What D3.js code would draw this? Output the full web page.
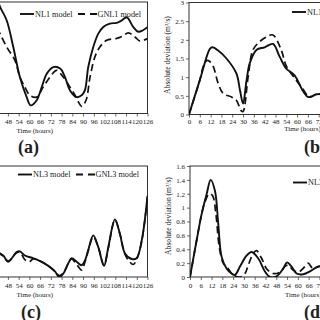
<!DOCTYPE html>
<html><head><meta charset="utf-8">
<script src="https://cdn.jsdelivr.net/npm/d3@7"></script>
<style>
html,body{margin:0;padding:0;background:#fff;overflow:hidden}
svg{display:block}
text{font-family:"Liberation Serif","Times New Roman",serif;fill:#222}
</style>
</head><body><svg id="chart" width="320" height="320"></svg>
<script>
// ---------- data ----------
const hourTicks = [0,6,12,18,24,30,36,42,48,54,60,66,72,78,84,90,96,102,108,114,120,126];
const yTicksAB = [0,0.5,1,1.5,2,2.5,3];
const yTicksCD = [0,0.2,0.4,0.6,0.8,1,1.2,1.4,1.6];

// (a) NL1 / GNL1
const aHoursNL1 = [42,43.6,47.3,51,54.7,58.5,60.7,64,66.9,69.7,73.4,77.2,79.9,82.7,86.4,89.2,91,92.9,95.7,98.5,101.3,105,108.8,111.5,114.4,118,120.8,123.5,126];
const aNL1      = [3.1,2.87,2.51,1.79,0.98,0.44,0.22,0.35,0.71,1.07,1.25,1.21,0.98,0.62,0.44,0.49,0.62,1.25,1.79,2.15,2.33,2.42,2.44,2.5,2.59,2.33,2.2,2.24,2.32];
const aHoursGNL1 = [42,43.6,47.3,51.9,54.7,57.5,60.3,64,67.7,71.5,75.2,78.9,82.7,85.5,87.5,89.2,91.6,93.9,96.6,99.4,103.2,108.8,112,115.3,119,121.8,126];
const aGNL1      = [2.3,2.15,1.79,1.43,0.98,0.71,0.49,0.44,0.71,0.98,1.16,0.98,0.71,0.49,0.3,0.19,0.35,0.98,1.52,1.79,1.97,2.02,2.08,2.17,2.06,1.95,2.02];

// (b) NL1 / GNL1 absolute deviation
const bHoursNL1 = [0,6,11.6,13,16,20.8,26.3,28.3,30,31.9,33.7,37.4,42,46.6,50.3,54,58.6,63,66,68,70.5,74];
const bNL1      = [0,0.92,1.76,1.8,1.72,1.5,1.1,0.65,0.29,0.9,1.37,1.73,1.8,1.89,1.55,1.23,1.05,0.65,0.47,0.48,0.54,0.55];
const bHoursGNL1 = [0,6,8,10,11.5,13.5,16.2,19,23.6,26.3,29,30,32.8,35.5,39.2,43,46.6,51.2,54,59.5,63,66,68,70.5,74];
const bGNL1      = [0,0.92,1.3,1.45,1.42,1.28,0.83,0.56,0.47,0.38,0.1,0.08,1.0,1.73,1.95,2.08,2.13,1.73,1.3,0.92,0.7,0.5,0.48,0.54,0.55];

// (c) NL3 / GNL3
const cHoursNL3 = [42,43.6,45.4,48.2,52.9,54.7,57.5,62.2,66,70.6,74.3,76.7,79,81.8,83.6,86.4,89.2,91.1,92.9,95.7,98.5,101.7,104.1,107.8,110.6,113.4,117.2,119.9,122.8,126];
const cNL3      = [0.36,0.34,0.31,0.22,0.36,0.37,0.31,0.27,0.23,0.16,0.08,0.0,0.05,0.2,0.27,0.22,0.17,0.24,0.39,0.6,0.43,0.16,0.43,0.83,0.62,0.34,0.26,0.27,0.53,1.17];
const cHoursGNL3 = [42,43.6,45.4,48.2,52.9,54.7,57.5,60,62.2,66,70.6,74.3,76.7,79,81.8,83.6,86.4,89.2,91.1,92.9,95.7,98.5,101.7,104.1,107.8,110.6,113.4,116,118,119.9,122.8,126];
const cGNL3      = [0.35,0.33,0.3,0.23,0.35,0.36,0.25,0.22,0.26,0.23,0.16,0.08,0.02,0.06,0.2,0.26,0.18,0.1,0.22,0.38,0.58,0.43,0.17,0.42,0.82,0.62,0.33,0.22,0.18,0.25,0.52,1.15];

// (d) NL3 / GNL3 absolute deviation
const dHoursNL3 = [0,3.7,6.5,9.3,11.5,13.9,15.7,17.6,20.4,23.1,25,27.8,31.5,34.3,37.9,41.7,44.4,48.2,51.8,54,56.5,59.3,63,66.7,70.4,74];
const dNL3      = [0,0.53,0.91,1.2,1.4,1.24,0.77,0.29,0.12,0.05,0.03,0.15,0.31,0.36,0.27,0.08,0.0,0.01,0.12,0.21,0.15,0.05,0.04,0.08,0.14,0.16];
const dHoursGNL3 = [0,3.7,6.5,8.3,10.7,12.6,14.4,16.3,18.5,21.3,24,27.8,30.6,32.4,35.2,37,39.8,42.6,46.3,50,52.8,54.6,57.4,60.2,63.9,65.7,68.5,71,74];
const dGNL3      = [0,0.53,0.91,1.08,1.2,1.17,0.91,0.43,0.2,0.12,0.03,0.0,0.05,0.17,0.34,0.38,0.27,0.12,0.05,0.07,0.15,0.17,0.1,0.07,0.15,0.2,0.12,0.15,0.16];

const yTitle = "Absolute deviation (m\u00B3/s)";
const xTitle = "Time (hours)";

// ---------- drawing ----------
const svg = d3.select("#chart");
const zip = (h, v) => h.map((d, i) => [d, v[i]]);
const SERIF = "Liberation Serif, Times New Roman, serif";

const panels = [
  {id:"a", x0:-78, x1:147.5, yTop:2, yBot:113.5, yDom:[0,3], yTicks:yTicksAB,
   solid:zip(aHoursNL1,aNL1), dashed:zip(aHoursGNL1,aGNL1), names:["NL1 model","GNL1 model"],
   legY:14, legX:20, tickY:124, titleY:132.5, yTitleC:55, label:"(a)", labX:18, labY:153},
  {id:"b", x0:189, x1:416, yTop:2.5, yBot:114.5, yDom:[0,3], yTicks:yTicksAB,
   solid:zip(bHoursNL1,bNL1), dashed:zip(bHoursGNL1,bGNL1), names:["NL1 model","GNL1 model"],
   legY:12, legX:292, tickY:123.5, titleY:131, yTitleC:55, label:"(b)", labX:304, labY:153},
  {id:"c", x0:-78, x1:147.5, yTop:166, yBot:277, yDom:[0,1.6], yTicks:yTicksCD,
   solid:zip(cHoursNL3,cNL3), dashed:zip(cHoursGNL3,cGNL3), names:["NL3 model","GNL3 model"],
   legY:174.5, legX:18, tickY:288, titleY:296.5, yTitleC:216, label:"(c)", labX:21, labY:318},
  {id:"d", x0:190, x1:416.5, yTop:166, yBot:277, yDom:[0,1.6], yTicks:yTicksCD,
   solid:zip(dHoursNL3,dNL3), dashed:zip(dHoursGNL3,dGNL3), names:["NL3 model","GNL3 model"],
   legY:182.5, legX:293, tickY:288, titleY:296.5, yTitleC:216, label:"(d)", labX:304, labY:318}
];

const defs = svg.append("defs");

panels.forEach(p => {
  const x = d3.scaleLinear().domain([0,126]).range([p.x0, p.x1]);
  const y = d3.scaleLinear().domain(p.yDom).range([p.yBot, p.yTop]);
  const g = svg.append("g");

  defs.append("clipPath").attr("id","clip-"+p.id)
    .append("rect").attr("x",p.x0).attr("y",p.yTop).attr("width",p.x1-p.x0).attr("height",p.yBot-p.yTop);

  // x axis
  const xa = g.append("g").attr("transform",`translate(0,${p.yBot})`)
    .attr("font-family", SERIF)
    .call(d3.axisBottom(x).tickValues(hourTicks).tickSize(3).tickPadding(2).tickSizeOuter(0));
  xa.select(".domain").remove();
  xa.selectAll("line").attr("stroke","#444").attr("stroke-width",0.8);
  xa.selectAll(".tick text").attr("font-size",7).attr("fill","#222")
    .attr("y", p.tickY - p.yBot).attr("dy",0);

  // y axis
  const ya = g.append("g").attr("transform",`translate(${p.x0},0)`)
    .attr("font-family", SERIF)
    .call(d3.axisLeft(y).tickValues(p.yTicks).tickFormat(d=>String(d)).tickSize(3).tickPadding(2).tickSizeOuter(0));
  ya.select(".domain").remove();
  ya.selectAll("line").attr("stroke","#444").attr("stroke-width",0.8);
  ya.selectAll(".tick text").attr("font-size",7).attr("fill","#222");

  // frame
  g.append("rect").attr("x",p.x0).attr("y",p.yTop).attr("width",p.x1-p.x0).attr("height",p.yBot-p.yTop)
    .attr("fill","none").attr("stroke","#333").attr("stroke-width",1);

  // lines
  const line = d3.line().x(d=>x(d[0])).y(d=>y(d[1])).curve(d3.curveCatmullRom.alpha(0.5));
  const lg = g.append("g").attr("clip-path",`url(#clip-${p.id})`);
  lg.append("path").datum(p.dashed).attr("d",line).attr("fill","none")
    .attr("stroke","#111").attr("stroke-width",1.7).attr("stroke-dasharray","7,4");
  lg.append("path").datum(p.solid).attr("d",line).attr("fill","none")
    .attr("stroke","#111").attr("stroke-width",1.9);

  // legend
  const L = g.append("g");
  L.append("line").attr("x1",p.legX).attr("x2",p.legX+14).attr("y1",p.legY).attr("y2",p.legY)
    .attr("stroke","#111").attr("stroke-width",1.9);
  L.append("text").attr("x",p.legX+15).attr("y",p.legY+2.8).attr("font-size",8.2).text(p.names[0]);
  L.append("line").attr("x1",p.legX+58).attr("x2",p.legX+77).attr("y1",p.legY).attr("y2",p.legY)
    .attr("stroke","#111").attr("stroke-width",1.9).attr("stroke-dasharray","7,5");
  L.append("text").attr("x",p.legX+77.5).attr("y",p.legY+2.8).attr("font-size",8.2).text(p.names[1]);

  // axis titles
  g.append("text").attr("x",(p.x0+p.x1)/2).attr("y",p.titleY).attr("text-anchor","middle")
    .attr("font-size",7).text(xTitle);
  g.append("text").attr("transform",`translate(${p.x0-19},${p.yTitleC}) rotate(-90)`)
    .attr("text-anchor","middle").attr("font-size",7.6).text(yTitle);

  // panel label
  g.append("text").attr("x",p.labX).attr("y",p.labY).attr("font-size",18).attr("font-weight","bold")
    .attr("fill","#111").text(p.label);
});

// drop texts that lie wholly outside the 320x320 window (cropped away in the reference)
svg.selectAll("text").each(function(){
  const r = this.getBoundingClientRect();
  if (r.right < 2 || r.left > 318 || r.bottom < 0 || r.top > 320) d3.select(this).remove();
});
</script>
</body></html>
